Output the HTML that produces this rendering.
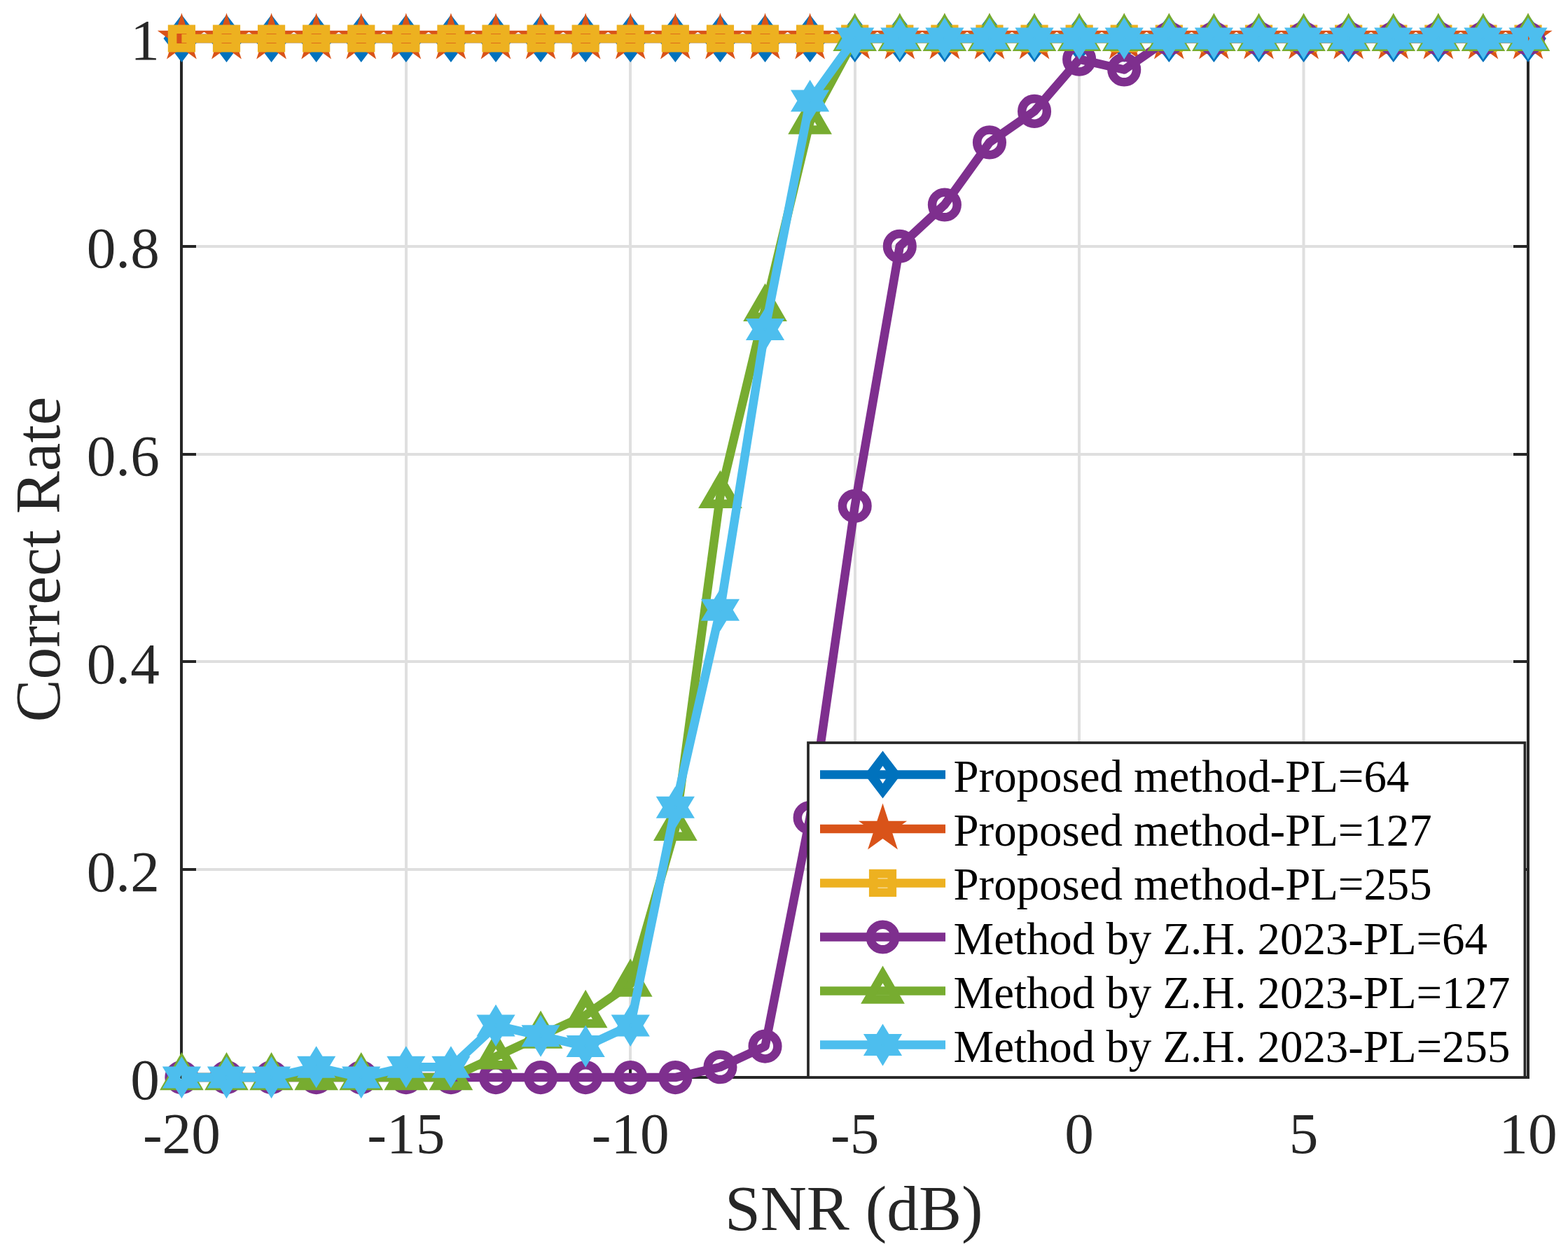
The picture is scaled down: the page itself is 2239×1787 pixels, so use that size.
<!DOCTYPE html>
<html lang="en">
<head>
<meta charset="utf-8">
<title>Correct Rate vs SNR</title>
<style>
html,body{margin:0;padding:0;background:#fff;}
body{width:2239px;height:1787px;overflow:hidden;}
svg{display:block;}
</style>
</head>
<body>
<svg width="2239" height="1787" viewBox="0 0 2239 1787" font-family="'Liberation Serif', 'Times New Roman', serif">
<rect width="2239" height="1787" fill="#fff"/>
<!-- grid -->
<path d="M580 55V1539M900 55V1539M1221 55V1539M1541 55V1539M1861.5 55V1539M259 1242H2182M259 945H2182M259 649H2182M259 352H2182" stroke="#DFDFDF" stroke-width="4" fill="none"/>
<!-- axes box and ticks -->
<path d="M259 1539v-21M259 55v21M580 1539v-21M580 55v21M900 1539v-21M900 55v21M1221 1539v-21M1221 55v21M1541 1539v-21M1541 55v21M1861.5 1539v-21M1861.5 55v21M2182 1539v-21M2182 55v21M259 1539h21M2182 1539h-21M259 1242h21M2182 1242h-21M259 945h21M2182 945h-21M259 649h21M2182 649h-21M259 352h21M2182 352h-21M259 55h21M2182 55h-21" stroke="#262626" stroke-width="4" fill="none"/>
<rect x="259" y="55" width="1923" height="1484" stroke="#262626" stroke-width="4" fill="none"/>
<!-- tick labels -->
<g fill="#262626" font-size="83.3" text-anchor="middle">
<text x="259.4" y="1646.7">-20</text>
<text x="579.83" y="1646.7">-15</text>
<text x="900.27" y="1646.7">-10</text>
<text x="1220.7" y="1646.7">-5</text>
<text x="1541.13" y="1646.7">0</text>
<text x="1861.57" y="1646.7">5</text>
<text x="2182" y="1646.7">10</text>
</g>
<g fill="#262626" font-size="83.3" text-anchor="end">
<text x="227.8" y="85.4">1</text>
<text x="227.8" y="382.22">0.8</text>
<text x="227.8" y="679.04">0.6</text>
<text x="227.8" y="975.86">0.4</text>
<text x="227.8" y="1272.68">0.2</text>
<text x="227.8" y="1569.5">0</text>
</g>
<!-- axis labels -->
<text x="1219.2" y="1756.6" fill="#262626" font-size="91.5" text-anchor="middle">SNR (dB)</text>
<text transform="translate(85,799) rotate(-90)" fill="#262626" font-size="91.5" text-anchor="middle">Correct Rate</text>
<!-- Proposed method-PL=64 -->
<polyline points="259.4,55 323.49,55 387.57,55 451.66,55 515.75,55 579.83,55 643.92,55 708.01,55 772.09,55 836.18,55 900.27,55 964.35,55 1028.44,55 1092.53,55 1156.61,55 1220.7,55 1284.79,55 1348.87,55 1412.96,55 1477.05,55 1541.13,55 1605.22,55 1669.31,55 1733.39,55 1797.48,55 1861.57,55 1925.65,55 1989.74,55 2053.83,55 2117.91,55 2182,55" fill="none" stroke="#0072BD" stroke-width="12.5" stroke-linejoin="round"/>
<path d="M259.4 21L285.3 55L259.4 89L233.5 55ZM259.4 42.3L251 55L259.4 67.7L267.8 55ZM323.49 21L349.39 55L323.49 89L297.59 55ZM323.49 42.3L315.09 55L323.49 67.7L331.89 55ZM387.57 21L413.47 55L387.57 89L361.67 55ZM387.57 42.3L379.17 55L387.57 67.7L395.97 55ZM451.66 21L477.56 55L451.66 89L425.76 55ZM451.66 42.3L443.26 55L451.66 67.7L460.06 55ZM515.75 21L541.65 55L515.75 89L489.85 55ZM515.75 42.3L507.35 55L515.75 67.7L524.15 55ZM579.83 21L605.73 55L579.83 89L553.93 55ZM579.83 42.3L571.43 55L579.83 67.7L588.23 55ZM643.92 21L669.82 55L643.92 89L618.02 55ZM643.92 42.3L635.52 55L643.92 67.7L652.32 55ZM708.01 21L733.91 55L708.01 89L682.11 55ZM708.01 42.3L699.61 55L708.01 67.7L716.41 55ZM772.09 21L797.99 55L772.09 89L746.19 55ZM772.09 42.3L763.69 55L772.09 67.7L780.49 55ZM836.18 21L862.08 55L836.18 89L810.28 55ZM836.18 42.3L827.78 55L836.18 67.7L844.58 55ZM900.27 21L926.17 55L900.27 89L874.37 55ZM900.27 42.3L891.87 55L900.27 67.7L908.67 55ZM964.35 21L990.25 55L964.35 89L938.45 55ZM964.35 42.3L955.95 55L964.35 67.7L972.75 55ZM1028.44 21L1054.34 55L1028.44 89L1002.54 55ZM1028.44 42.3L1020.04 55L1028.44 67.7L1036.84 55ZM1092.53 21L1118.43 55L1092.53 89L1066.63 55ZM1092.53 42.3L1084.13 55L1092.53 67.7L1100.93 55ZM1156.61 21L1182.51 55L1156.61 89L1130.71 55ZM1156.61 42.3L1148.21 55L1156.61 67.7L1165.01 55ZM1220.7 21L1246.6 55L1220.7 89L1194.8 55ZM1220.7 42.3L1212.3 55L1220.7 67.7L1229.1 55ZM1284.79 21L1310.69 55L1284.79 89L1258.89 55ZM1284.79 42.3L1276.39 55L1284.79 67.7L1293.19 55ZM1348.87 21L1374.77 55L1348.87 89L1322.97 55ZM1348.87 42.3L1340.47 55L1348.87 67.7L1357.27 55ZM1412.96 21L1438.86 55L1412.96 89L1387.06 55ZM1412.96 42.3L1404.56 55L1412.96 67.7L1421.36 55ZM1477.05 21L1502.95 55L1477.05 89L1451.15 55ZM1477.05 42.3L1468.65 55L1477.05 67.7L1485.45 55ZM1541.13 21L1567.03 55L1541.13 89L1515.23 55ZM1541.13 42.3L1532.73 55L1541.13 67.7L1549.53 55ZM1605.22 21L1631.12 55L1605.22 89L1579.32 55ZM1605.22 42.3L1596.82 55L1605.22 67.7L1613.62 55ZM1669.31 21L1695.21 55L1669.31 89L1643.41 55ZM1669.31 42.3L1660.91 55L1669.31 67.7L1677.71 55ZM1733.39 21L1759.29 55L1733.39 89L1707.49 55ZM1733.39 42.3L1724.99 55L1733.39 67.7L1741.79 55ZM1797.48 21L1823.38 55L1797.48 89L1771.58 55ZM1797.48 42.3L1789.08 55L1797.48 67.7L1805.88 55ZM1861.57 21L1887.47 55L1861.57 89L1835.67 55ZM1861.57 42.3L1853.17 55L1861.57 67.7L1869.97 55ZM1925.65 21L1951.55 55L1925.65 89L1899.75 55ZM1925.65 42.3L1917.25 55L1925.65 67.7L1934.05 55ZM1989.74 21L2015.64 55L1989.74 89L1963.84 55ZM1989.74 42.3L1981.34 55L1989.74 67.7L1998.14 55ZM2053.83 21L2079.73 55L2053.83 89L2027.93 55ZM2053.83 42.3L2045.43 55L2053.83 67.7L2062.23 55ZM2117.91 21L2143.81 55L2117.91 89L2092.01 55ZM2117.91 42.3L2109.51 55L2117.91 67.7L2126.31 55ZM2182 21L2207.9 55L2182 89L2156.1 55ZM2182 42.3L2173.6 55L2182 67.7L2190.4 55Z" fill="#0072BD" fill-rule="evenodd"/>
<!-- Proposed method-PL=127 -->
<polyline points="259.4,55 323.49,55 387.57,55 451.66,55 515.75,55 579.83,55 643.92,55 708.01,55 772.09,55 836.18,55 900.27,55 964.35,55 1028.44,55 1092.53,55 1156.61,55 1220.7,55 1284.79,55 1348.87,55 1412.96,55 1477.05,55 1541.13,55 1605.22,55 1669.31,55 1733.39,55 1797.48,55 1861.57,55 1925.65,55 1989.74,55 2053.83,55 2117.91,55 2182,55" fill="none" stroke="#D95319" stroke-width="12.5" stroke-linejoin="round"/>
<path d="M259.4 18.6L267.57 43.75L294.02 43.75L272.62 59.3L280.8 84.45L259.4 68.9L238 84.45L246.18 59.3L224.78 43.75L251.23 43.75ZM323.49 18.6L331.66 43.75L358.11 43.75L336.71 59.3L344.88 84.45L323.49 68.9L302.09 84.45L310.26 59.3L288.87 43.75L315.31 43.75ZM387.57 18.6L395.75 43.75L422.19 43.75L400.8 59.3L408.97 84.45L387.57 68.9L366.18 84.45L374.35 59.3L352.95 43.75L379.4 43.75ZM451.66 18.6L459.83 43.75L486.28 43.75L464.88 59.3L473.06 84.45L451.66 68.9L430.26 84.45L438.44 59.3L417.04 43.75L443.49 43.75ZM515.75 18.6L523.92 43.75L550.37 43.75L528.97 59.3L537.14 84.45L515.75 68.9L494.35 84.45L502.52 59.3L481.13 43.75L507.57 43.75ZM579.83 18.6L588.01 43.75L614.45 43.75L593.06 59.3L601.23 84.45L579.83 68.9L558.44 84.45L566.61 59.3L545.21 43.75L571.66 43.75ZM643.92 18.6L652.09 43.75L678.54 43.75L657.14 59.3L665.32 84.45L643.92 68.9L622.52 84.45L630.7 59.3L609.3 43.75L635.75 43.75ZM708.01 18.6L716.18 43.75L742.63 43.75L721.23 59.3L729.4 84.45L708.01 68.9L686.61 84.45L694.78 59.3L673.39 43.75L699.83 43.75ZM772.09 18.6L780.27 43.75L806.71 43.75L785.32 59.3L793.49 84.45L772.09 68.9L750.7 84.45L758.87 59.3L737.47 43.75L763.92 43.75ZM836.18 18.6L844.35 43.75L870.8 43.75L849.4 59.3L857.58 84.45L836.18 68.9L814.78 84.45L822.96 59.3L801.56 43.75L828.01 43.75ZM900.27 18.6L908.44 43.75L934.89 43.75L913.49 59.3L921.66 84.45L900.27 68.9L878.87 84.45L887.04 59.3L865.65 43.75L892.09 43.75ZM964.35 18.6L972.53 43.75L998.97 43.75L977.58 59.3L985.75 84.45L964.35 68.9L942.96 84.45L951.13 59.3L929.73 43.75L956.18 43.75ZM1028.44 18.6L1036.61 43.75L1063.06 43.75L1041.66 59.3L1049.84 84.45L1028.44 68.9L1007.04 84.45L1015.22 59.3L993.82 43.75L1020.27 43.75ZM1092.53 18.6L1100.7 43.75L1127.15 43.75L1105.75 59.3L1113.92 84.45L1092.53 68.9L1071.13 84.45L1079.3 59.3L1057.91 43.75L1084.35 43.75ZM1156.61 18.6L1164.79 43.75L1191.23 43.75L1169.84 59.3L1178.01 84.45L1156.61 68.9L1135.22 84.45L1143.39 59.3L1121.99 43.75L1148.44 43.75ZM1220.7 18.6L1228.87 43.75L1255.32 43.75L1233.92 59.3L1242.1 84.45L1220.7 68.9L1199.3 84.45L1207.48 59.3L1186.08 43.75L1212.53 43.75ZM1284.79 18.6L1292.96 43.75L1319.41 43.75L1298.01 59.3L1306.18 84.45L1284.79 68.9L1263.39 84.45L1271.56 59.3L1250.17 43.75L1276.61 43.75ZM1348.87 18.6L1357.05 43.75L1383.49 43.75L1362.1 59.3L1370.27 84.45L1348.87 68.9L1327.48 84.45L1335.65 59.3L1314.25 43.75L1340.7 43.75ZM1412.96 18.6L1421.13 43.75L1447.58 43.75L1426.18 59.3L1434.36 84.45L1412.96 68.9L1391.56 84.45L1399.74 59.3L1378.34 43.75L1404.79 43.75ZM1477.05 18.6L1485.22 43.75L1511.67 43.75L1490.27 59.3L1498.44 84.45L1477.05 68.9L1455.65 84.45L1463.82 59.3L1442.43 43.75L1468.87 43.75ZM1541.13 18.6L1549.31 43.75L1575.75 43.75L1554.36 59.3L1562.53 84.45L1541.13 68.9L1519.74 84.45L1527.91 59.3L1506.51 43.75L1532.96 43.75ZM1605.22 18.6L1613.39 43.75L1639.84 43.75L1618.44 59.3L1626.62 84.45L1605.22 68.9L1583.82 84.45L1592 59.3L1570.6 43.75L1597.05 43.75ZM1669.31 18.6L1677.48 43.75L1703.93 43.75L1682.53 59.3L1690.7 84.45L1669.31 68.9L1647.91 84.45L1656.08 59.3L1634.69 43.75L1661.13 43.75ZM1733.39 18.6L1741.57 43.75L1768.01 43.75L1746.62 59.3L1754.79 84.45L1733.39 68.9L1712 84.45L1720.17 59.3L1698.77 43.75L1725.22 43.75ZM1797.48 18.6L1805.65 43.75L1832.1 43.75L1810.7 59.3L1818.88 84.45L1797.48 68.9L1776.08 84.45L1784.26 59.3L1762.86 43.75L1789.31 43.75ZM1861.57 18.6L1869.74 43.75L1896.19 43.75L1874.79 59.3L1882.96 84.45L1861.57 68.9L1840.17 84.45L1848.34 59.3L1826.95 43.75L1853.39 43.75ZM1925.65 18.6L1933.83 43.75L1960.27 43.75L1938.88 59.3L1947.05 84.45L1925.65 68.9L1904.26 84.45L1912.43 59.3L1891.03 43.75L1917.48 43.75ZM1989.74 18.6L1997.91 43.75L2024.36 43.75L2002.96 59.3L2011.14 84.45L1989.74 68.9L1968.34 84.45L1976.52 59.3L1955.12 43.75L1981.57 43.75ZM2053.83 18.6L2062 43.75L2088.45 43.75L2067.05 59.3L2075.22 84.45L2053.83 68.9L2032.43 84.45L2040.6 59.3L2019.21 43.75L2045.65 43.75ZM2117.91 18.6L2126.09 43.75L2152.53 43.75L2131.14 59.3L2139.31 84.45L2117.91 68.9L2096.52 84.45L2104.69 59.3L2083.29 43.75L2109.74 43.75ZM2182 18.6L2190.17 43.75L2216.62 43.75L2195.22 59.3L2203.4 84.45L2182 68.9L2160.6 84.45L2168.78 59.3L2147.38 43.75L2173.83 43.75Z" fill="#D95319"/>
<!-- Proposed method-PL=255 -->
<polyline points="259.4,55 323.49,55 387.57,55 451.66,55 515.75,55 579.83,55 643.92,55 708.01,55 772.09,55 836.18,55 900.27,55 964.35,55 1028.44,55 1092.53,55 1156.61,55 1220.7,55 1284.79,55 1348.87,55 1412.96,55 1477.05,55 1541.13,55 1605.22,55 1669.31,55 1733.39,55 1797.48,55 1861.57,55 1925.65,55 1989.74,55 2053.83,55 2117.91,55 2182,55" fill="none" stroke="#EDB120" stroke-width="12.5" stroke-linejoin="round"/>
<path d="M246.1 41.7L272.7 41.7L272.7 68.3L246.1 68.3ZM310.19 41.7L336.79 41.7L336.79 68.3L310.19 68.3ZM374.27 41.7L400.87 41.7L400.87 68.3L374.27 68.3ZM438.36 41.7L464.96 41.7L464.96 68.3L438.36 68.3ZM502.45 41.7L529.05 41.7L529.05 68.3L502.45 68.3ZM566.53 41.7L593.13 41.7L593.13 68.3L566.53 68.3ZM630.62 41.7L657.22 41.7L657.22 68.3L630.62 68.3ZM694.71 41.7L721.31 41.7L721.31 68.3L694.71 68.3ZM758.79 41.7L785.39 41.7L785.39 68.3L758.79 68.3ZM822.88 41.7L849.48 41.7L849.48 68.3L822.88 68.3ZM886.97 41.7L913.57 41.7L913.57 68.3L886.97 68.3ZM951.05 41.7L977.65 41.7L977.65 68.3L951.05 68.3ZM1015.14 41.7L1041.74 41.7L1041.74 68.3L1015.14 68.3ZM1079.23 41.7L1105.83 41.7L1105.83 68.3L1079.23 68.3ZM1143.31 41.7L1169.91 41.7L1169.91 68.3L1143.31 68.3ZM1207.4 41.7L1234 41.7L1234 68.3L1207.4 68.3ZM1271.49 41.7L1298.09 41.7L1298.09 68.3L1271.49 68.3ZM1335.57 41.7L1362.17 41.7L1362.17 68.3L1335.57 68.3ZM1399.66 41.7L1426.26 41.7L1426.26 68.3L1399.66 68.3ZM1463.75 41.7L1490.35 41.7L1490.35 68.3L1463.75 68.3ZM1527.83 41.7L1554.43 41.7L1554.43 68.3L1527.83 68.3ZM1591.92 41.7L1618.52 41.7L1618.52 68.3L1591.92 68.3ZM1656.01 41.7L1682.61 41.7L1682.61 68.3L1656.01 68.3ZM1720.09 41.7L1746.69 41.7L1746.69 68.3L1720.09 68.3ZM1784.18 41.7L1810.78 41.7L1810.78 68.3L1784.18 68.3ZM1848.27 41.7L1874.87 41.7L1874.87 68.3L1848.27 68.3ZM1912.35 41.7L1938.95 41.7L1938.95 68.3L1912.35 68.3ZM1976.44 41.7L2003.04 41.7L2003.04 68.3L1976.44 68.3ZM2040.53 41.7L2067.13 41.7L2067.13 68.3L2040.53 68.3ZM2104.61 41.7L2131.21 41.7L2131.21 68.3L2104.61 68.3ZM2168.7 41.7L2195.3 41.7L2195.3 68.3L2168.7 68.3Z" fill="none" stroke="#EDB120" stroke-width="12.6"/>
<!-- Method by Z.H. 2023-PL=64 -->
<polyline points="259.4,1539.1 323.49,1539.1 387.57,1539.1 451.66,1539.1 515.75,1539.1 579.83,1539.1 643.92,1539.1 708.01,1539.1 772.09,1539.1 836.18,1539.1 900.27,1539.1 964.35,1539.1 1028.44,1524.26 1092.53,1494.58 1156.61,1168.07 1220.7,722.84 1284.79,351.82 1348.87,292.46 1412.96,203.41 1477.05,158.89 1541.13,84.68 1605.22,99.52 1669.31,55 1733.39,55 1797.48,55 1861.57,55 1925.65,55 1989.74,55 2053.83,55 2117.91,55 2182,55" fill="none" stroke="#7E2F8E" stroke-width="12.5" stroke-linejoin="round"/>
<path d="M241.6 1539.1a17.8 17.8 0 1 0 35.6 0a17.8 17.8 0 1 0 -35.6 0ZM305.69 1539.1a17.8 17.8 0 1 0 35.6 0a17.8 17.8 0 1 0 -35.6 0ZM369.77 1539.1a17.8 17.8 0 1 0 35.6 0a17.8 17.8 0 1 0 -35.6 0ZM433.86 1539.1a17.8 17.8 0 1 0 35.6 0a17.8 17.8 0 1 0 -35.6 0ZM497.95 1539.1a17.8 17.8 0 1 0 35.6 0a17.8 17.8 0 1 0 -35.6 0ZM562.03 1539.1a17.8 17.8 0 1 0 35.6 0a17.8 17.8 0 1 0 -35.6 0ZM626.12 1539.1a17.8 17.8 0 1 0 35.6 0a17.8 17.8 0 1 0 -35.6 0ZM690.21 1539.1a17.8 17.8 0 1 0 35.6 0a17.8 17.8 0 1 0 -35.6 0ZM754.29 1539.1a17.8 17.8 0 1 0 35.6 0a17.8 17.8 0 1 0 -35.6 0ZM818.38 1539.1a17.8 17.8 0 1 0 35.6 0a17.8 17.8 0 1 0 -35.6 0ZM882.47 1539.1a17.8 17.8 0 1 0 35.6 0a17.8 17.8 0 1 0 -35.6 0ZM946.55 1539.1a17.8 17.8 0 1 0 35.6 0a17.8 17.8 0 1 0 -35.6 0ZM1010.64 1524.26a17.8 17.8 0 1 0 35.6 0a17.8 17.8 0 1 0 -35.6 0ZM1074.73 1494.58a17.8 17.8 0 1 0 35.6 0a17.8 17.8 0 1 0 -35.6 0ZM1138.81 1168.07a17.8 17.8 0 1 0 35.6 0a17.8 17.8 0 1 0 -35.6 0ZM1202.9 722.84a17.8 17.8 0 1 0 35.6 0a17.8 17.8 0 1 0 -35.6 0ZM1266.99 351.82a17.8 17.8 0 1 0 35.6 0a17.8 17.8 0 1 0 -35.6 0ZM1331.07 292.46a17.8 17.8 0 1 0 35.6 0a17.8 17.8 0 1 0 -35.6 0ZM1395.16 203.41a17.8 17.8 0 1 0 35.6 0a17.8 17.8 0 1 0 -35.6 0ZM1459.25 158.89a17.8 17.8 0 1 0 35.6 0a17.8 17.8 0 1 0 -35.6 0ZM1523.33 84.68a17.8 17.8 0 1 0 35.6 0a17.8 17.8 0 1 0 -35.6 0ZM1587.42 99.52a17.8 17.8 0 1 0 35.6 0a17.8 17.8 0 1 0 -35.6 0ZM1651.51 55a17.8 17.8 0 1 0 35.6 0a17.8 17.8 0 1 0 -35.6 0ZM1715.59 55a17.8 17.8 0 1 0 35.6 0a17.8 17.8 0 1 0 -35.6 0ZM1779.68 55a17.8 17.8 0 1 0 35.6 0a17.8 17.8 0 1 0 -35.6 0ZM1843.77 55a17.8 17.8 0 1 0 35.6 0a17.8 17.8 0 1 0 -35.6 0ZM1907.85 55a17.8 17.8 0 1 0 35.6 0a17.8 17.8 0 1 0 -35.6 0ZM1971.94 55a17.8 17.8 0 1 0 35.6 0a17.8 17.8 0 1 0 -35.6 0ZM2036.03 55a17.8 17.8 0 1 0 35.6 0a17.8 17.8 0 1 0 -35.6 0ZM2100.11 55a17.8 17.8 0 1 0 35.6 0a17.8 17.8 0 1 0 -35.6 0ZM2164.2 55a17.8 17.8 0 1 0 35.6 0a17.8 17.8 0 1 0 -35.6 0Z" fill="none" stroke="#7E2F8E" stroke-width="12.5"/>
<!-- Method by Z.H. 2023-PL=127 -->
<polyline points="259.4,1539.1 323.49,1539.1 387.57,1539.1 451.66,1539.1 515.75,1539.1 579.83,1539.1 643.92,1539.1 708.01,1509.42 772.09,1479.74 836.18,1450.05 900.27,1405.53 964.35,1182.92 1028.44,708 1092.53,440.87 1156.61,173.73 1220.7,55 1284.79,55 1348.87,55 1412.96,55 1477.05,55 1541.13,55 1605.22,55 1669.31,55 1733.39,55 1797.48,55 1861.57,55 1925.65,55 1989.74,55 2053.83,55 2117.91,55 2182,55" fill="none" stroke="#77AC30" stroke-width="12.5" stroke-linejoin="round"/>
<path d="M259.4 1515.4L279.92 1550.95L238.88 1550.95ZM323.49 1515.4L344.01 1550.95L302.96 1550.95ZM387.57 1515.4L408.1 1550.95L367.05 1550.95ZM451.66 1515.4L472.18 1550.95L431.14 1550.95ZM515.75 1515.4L536.27 1550.95L495.22 1550.95ZM579.83 1515.4L600.36 1550.95L559.31 1550.95ZM643.92 1515.4L664.44 1550.95L623.4 1550.95ZM708.01 1485.72L728.53 1521.27L687.48 1521.27ZM772.09 1456.04L792.62 1491.59L751.57 1491.59ZM836.18 1426.35L856.7 1461.9L815.66 1461.9ZM900.27 1381.83L920.79 1417.38L879.74 1417.38ZM964.35 1159.22L984.88 1194.77L943.83 1194.77ZM1028.44 684.3L1048.96 719.85L1007.92 719.85ZM1092.53 417.17L1113.05 452.72L1072 452.72ZM1156.61 150.03L1177.14 185.58L1136.09 185.58ZM1220.7 31.3L1241.22 66.85L1200.18 66.85ZM1284.79 31.3L1305.31 66.85L1264.26 66.85ZM1348.87 31.3L1369.4 66.85L1328.35 66.85ZM1412.96 31.3L1433.48 66.85L1392.44 66.85ZM1477.05 31.3L1497.57 66.85L1456.52 66.85ZM1541.13 31.3L1561.66 66.85L1520.61 66.85ZM1605.22 31.3L1625.74 66.85L1584.7 66.85ZM1669.31 31.3L1689.83 66.85L1648.78 66.85ZM1733.39 31.3L1753.92 66.85L1712.87 66.85ZM1797.48 31.3L1818 66.85L1776.96 66.85ZM1861.57 31.3L1882.09 66.85L1841.04 66.85ZM1925.65 31.3L1946.18 66.85L1905.13 66.85ZM1989.74 31.3L2010.26 66.85L1969.22 66.85ZM2053.83 31.3L2074.35 66.85L2033.3 66.85ZM2117.91 31.3L2138.44 66.85L2097.39 66.85ZM2182 31.3L2202.52 66.85L2161.48 66.85Z" fill="none" stroke="#77AC30" stroke-width="12.5" stroke-linejoin="miter" stroke-miterlimit="10"/>
<!-- Method by Z.H. 2023-PL=255 -->
<polyline points="259.4,1539.1 323.49,1539.1 387.57,1539.1 451.66,1524.26 515.75,1539.1 579.83,1524.26 643.92,1524.26 708.01,1464.89 772.09,1479.74 836.18,1494.58 900.27,1464.89 964.35,1153.23 1028.44,871.25 1092.53,470.55 1156.61,144.05 1220.7,55 1284.79,55 1348.87,55 1412.96,55 1477.05,55 1541.13,55 1605.22,55 1669.31,55 1733.39,55 1797.48,55 1861.57,55 1925.65,55 1989.74,55 2053.83,55 2117.91,55 2182,55" fill="none" stroke="#4DBEEE" stroke-width="12.5" stroke-linejoin="round"/>
<path d="M259.4 1509L268.24 1523.6L287 1523.6L277.62 1539.1L287 1554.6L268.24 1554.6L259.4 1569.2L250.56 1554.6L231.8 1554.6L241.18 1539.1L231.8 1523.6L250.56 1523.6ZM259.4 1535.6L257.2 1539.1L259.4 1542.6L261.6 1539.1ZM323.49 1509L332.32 1523.6L351.09 1523.6L341.71 1539.1L351.09 1554.6L332.32 1554.6L323.49 1569.2L314.65 1554.6L295.89 1554.6L305.27 1539.1L295.89 1523.6L314.65 1523.6ZM323.49 1535.6L321.29 1539.1L323.49 1542.6L325.69 1539.1ZM387.57 1509L396.41 1523.6L415.17 1523.6L405.79 1539.1L415.17 1554.6L396.41 1554.6L387.57 1569.2L378.74 1554.6L359.97 1554.6L369.35 1539.1L359.97 1523.6L378.74 1523.6ZM387.57 1535.6L385.37 1539.1L387.57 1542.6L389.77 1539.1ZM451.66 1494.16L460.5 1508.76L479.26 1508.76L469.88 1524.26L479.26 1539.76L460.5 1539.76L451.66 1554.36L442.82 1539.76L424.06 1539.76L433.44 1524.26L424.06 1508.76L442.82 1508.76ZM451.66 1520.76L449.46 1524.26L451.66 1527.76L453.86 1524.26ZM515.75 1509L524.58 1523.6L543.35 1523.6L533.97 1539.1L543.35 1554.6L524.58 1554.6L515.75 1569.2L506.91 1554.6L488.15 1554.6L497.53 1539.1L488.15 1523.6L506.91 1523.6ZM515.75 1535.6L513.55 1539.1L515.75 1542.6L517.95 1539.1ZM579.83 1494.16L588.67 1508.76L607.43 1508.76L598.05 1524.26L607.43 1539.76L588.67 1539.76L579.83 1554.36L571 1539.76L552.23 1539.76L561.61 1524.26L552.23 1508.76L571 1508.76ZM579.83 1520.76L577.63 1524.26L579.83 1527.76L582.03 1524.26ZM643.92 1494.16L652.76 1508.76L671.52 1508.76L662.14 1524.26L671.52 1539.76L652.76 1539.76L643.92 1554.36L635.08 1539.76L616.32 1539.76L625.7 1524.26L616.32 1508.76L635.08 1508.76ZM643.92 1520.76L641.72 1524.26L643.92 1527.76L646.12 1524.26ZM708.01 1434.8L716.84 1449.39L735.61 1449.39L726.23 1464.89L735.61 1480.39L716.84 1480.39L708.01 1494.99L699.17 1480.39L680.41 1480.39L689.79 1464.89L680.41 1449.39L699.17 1449.39ZM708.01 1461.39L705.81 1464.89L708.01 1468.39L710.21 1464.89ZM772.09 1449.64L780.93 1464.24L799.69 1464.24L790.31 1479.74L799.69 1495.24L780.93 1495.24L772.09 1509.84L763.26 1495.24L744.49 1495.24L753.87 1479.74L744.49 1464.24L763.26 1464.24ZM772.09 1476.24L769.89 1479.74L772.09 1483.24L774.29 1479.74ZM836.18 1464.48L845.02 1479.08L863.78 1479.08L854.4 1494.58L863.78 1510.08L845.02 1510.08L836.18 1524.68L827.34 1510.08L808.58 1510.08L817.96 1494.58L808.58 1479.08L827.34 1479.08ZM836.18 1491.08L833.98 1494.58L836.18 1498.08L838.38 1494.58ZM900.27 1434.8L909.1 1449.39L927.87 1449.39L918.49 1464.89L927.87 1480.39L909.1 1480.39L900.27 1494.99L891.43 1480.39L872.67 1480.39L882.05 1464.89L872.67 1449.39L891.43 1449.39ZM900.27 1461.39L898.07 1464.89L900.27 1468.39L902.47 1464.89ZM964.35 1123.13L973.19 1137.73L991.95 1137.73L982.57 1153.23L991.95 1168.73L973.19 1168.73L964.35 1183.33L955.52 1168.73L936.75 1168.73L946.13 1153.23L936.75 1137.73L955.52 1137.73ZM964.35 1149.73L962.15 1153.23L964.35 1156.73L966.55 1153.23ZM1028.44 841.15L1037.28 855.75L1056.04 855.75L1046.66 871.25L1056.04 886.75L1037.28 886.75L1028.44 901.35L1019.6 886.75L1000.84 886.75L1010.22 871.25L1000.84 855.75L1019.6 855.75ZM1028.44 867.75L1026.24 871.25L1028.44 874.75L1030.64 871.25ZM1092.53 440.45L1101.36 455.05L1120.13 455.05L1110.75 470.55L1120.13 486.05L1101.36 486.05L1092.53 500.65L1083.69 486.05L1064.93 486.05L1074.31 470.55L1064.93 455.05L1083.69 455.05ZM1092.53 467.05L1090.33 470.55L1092.53 474.05L1094.73 470.55ZM1156.61 113.95L1165.45 128.55L1184.21 128.55L1174.83 144.05L1184.21 159.55L1165.45 159.55L1156.61 174.15L1147.78 159.55L1129.01 159.55L1138.39 144.05L1129.01 128.55L1147.78 128.55ZM1156.61 140.55L1154.41 144.05L1156.61 147.55L1158.81 144.05ZM1220.7 24.9L1229.54 39.5L1248.3 39.5L1238.92 55L1248.3 70.5L1229.54 70.5L1220.7 85.1L1211.86 70.5L1193.1 70.5L1202.48 55L1193.1 39.5L1211.86 39.5ZM1220.7 51.5L1218.5 55L1220.7 58.5L1222.9 55ZM1284.79 24.9L1293.62 39.5L1312.39 39.5L1303.01 55L1312.39 70.5L1293.62 70.5L1284.79 85.1L1275.95 70.5L1257.19 70.5L1266.57 55L1257.19 39.5L1275.95 39.5ZM1284.79 51.5L1282.59 55L1284.79 58.5L1286.99 55ZM1348.87 24.9L1357.71 39.5L1376.47 39.5L1367.09 55L1376.47 70.5L1357.71 70.5L1348.87 85.1L1340.04 70.5L1321.27 70.5L1330.65 55L1321.27 39.5L1340.04 39.5ZM1348.87 51.5L1346.67 55L1348.87 58.5L1351.07 55ZM1412.96 24.9L1421.8 39.5L1440.56 39.5L1431.18 55L1440.56 70.5L1421.8 70.5L1412.96 85.1L1404.12 70.5L1385.36 70.5L1394.74 55L1385.36 39.5L1404.12 39.5ZM1412.96 51.5L1410.76 55L1412.96 58.5L1415.16 55ZM1477.05 24.9L1485.88 39.5L1504.65 39.5L1495.27 55L1504.65 70.5L1485.88 70.5L1477.05 85.1L1468.21 70.5L1449.45 70.5L1458.83 55L1449.45 39.5L1468.21 39.5ZM1477.05 51.5L1474.85 55L1477.05 58.5L1479.25 55ZM1541.13 24.9L1549.97 39.5L1568.73 39.5L1559.35 55L1568.73 70.5L1549.97 70.5L1541.13 85.1L1532.3 70.5L1513.53 70.5L1522.91 55L1513.53 39.5L1532.3 39.5ZM1541.13 51.5L1538.93 55L1541.13 58.5L1543.33 55ZM1605.22 24.9L1614.06 39.5L1632.82 39.5L1623.44 55L1632.82 70.5L1614.06 70.5L1605.22 85.1L1596.38 70.5L1577.62 70.5L1587 55L1577.62 39.5L1596.38 39.5ZM1605.22 51.5L1603.02 55L1605.22 58.5L1607.42 55ZM1669.31 24.9L1678.14 39.5L1696.91 39.5L1687.53 55L1696.91 70.5L1678.14 70.5L1669.31 85.1L1660.47 70.5L1641.71 70.5L1651.09 55L1641.71 39.5L1660.47 39.5ZM1669.31 51.5L1667.11 55L1669.31 58.5L1671.51 55ZM1733.39 24.9L1742.23 39.5L1760.99 39.5L1751.61 55L1760.99 70.5L1742.23 70.5L1733.39 85.1L1724.56 70.5L1705.79 70.5L1715.17 55L1705.79 39.5L1724.56 39.5ZM1733.39 51.5L1731.19 55L1733.39 58.5L1735.59 55ZM1797.48 24.9L1806.32 39.5L1825.08 39.5L1815.7 55L1825.08 70.5L1806.32 70.5L1797.48 85.1L1788.64 70.5L1769.88 70.5L1779.26 55L1769.88 39.5L1788.64 39.5ZM1797.48 51.5L1795.28 55L1797.48 58.5L1799.68 55ZM1861.57 24.9L1870.4 39.5L1889.17 39.5L1879.79 55L1889.17 70.5L1870.4 70.5L1861.57 85.1L1852.73 70.5L1833.97 70.5L1843.35 55L1833.97 39.5L1852.73 39.5ZM1861.57 51.5L1859.37 55L1861.57 58.5L1863.77 55ZM1925.65 24.9L1934.49 39.5L1953.25 39.5L1943.87 55L1953.25 70.5L1934.49 70.5L1925.65 85.1L1916.82 70.5L1898.05 70.5L1907.43 55L1898.05 39.5L1916.82 39.5ZM1925.65 51.5L1923.45 55L1925.65 58.5L1927.85 55ZM1989.74 24.9L1998.58 39.5L2017.34 39.5L2007.96 55L2017.34 70.5L1998.58 70.5L1989.74 85.1L1980.9 70.5L1962.14 70.5L1971.52 55L1962.14 39.5L1980.9 39.5ZM1989.74 51.5L1987.54 55L1989.74 58.5L1991.94 55ZM2053.83 24.9L2062.66 39.5L2081.43 39.5L2072.05 55L2081.43 70.5L2062.66 70.5L2053.83 85.1L2044.99 70.5L2026.23 70.5L2035.61 55L2026.23 39.5L2044.99 39.5ZM2053.83 51.5L2051.63 55L2053.83 58.5L2056.03 55ZM2117.91 24.9L2126.75 39.5L2145.51 39.5L2136.13 55L2145.51 70.5L2126.75 70.5L2117.91 85.1L2109.08 70.5L2090.31 70.5L2099.69 55L2090.31 39.5L2109.08 39.5ZM2117.91 51.5L2115.71 55L2117.91 58.5L2120.11 55ZM2182 24.9L2190.84 39.5L2209.6 39.5L2200.22 55L2209.6 70.5L2190.84 70.5L2182 85.1L2173.16 70.5L2154.4 70.5L2163.78 55L2154.4 39.5L2173.16 39.5ZM2182 51.5L2179.8 55L2182 58.5L2184.2 55Z" fill="#4DBEEE" fill-rule="evenodd"/>
<!-- legend -->
<rect x="1154" y="1061" width="1023.4" height="478" fill="#fff" stroke="#262626" stroke-width="3.7"/>
<line x1="1171" y1="1106.6" x2="1350" y2="1106.6" stroke="#0072BD" stroke-width="12.5"/>
<path d="M1260.5 1072.6L1286.4 1106.6L1260.5 1140.6L1234.6 1106.6ZM1260.5 1093.9L1252.1 1106.6L1260.5 1119.3L1268.9 1106.6Z" fill="#0072BD" fill-rule="evenodd"/>
<text x="1361.5" y="1130.6" font-size="64.85" fill="#000">Proposed method-PL=64</text>
<line x1="1171" y1="1184" x2="1350" y2="1184" stroke="#D95319" stroke-width="12.5"/>
<path d="M1260.5 1147.6L1268.67 1172.75L1295.12 1172.75L1273.72 1188.3L1281.9 1213.45L1260.5 1197.9L1239.1 1213.45L1247.28 1188.3L1225.88 1172.75L1252.33 1172.75Z" fill="#D95319"/>
<text x="1361.5" y="1207.95" font-size="64.85" fill="#000">Proposed method-PL=127</text>
<line x1="1171" y1="1261.4" x2="1350" y2="1261.4" stroke="#EDB120" stroke-width="12.5"/>
<path d="M1247.2 1248.1L1273.8 1248.1L1273.8 1274.7L1247.2 1274.7Z" fill="none" stroke="#EDB120" stroke-width="12.6"/>
<text x="1361.5" y="1285.3" font-size="64.85" fill="#000">Proposed method-PL=255</text>
<line x1="1171" y1="1338.55" x2="1350" y2="1338.55" stroke="#7E2F8E" stroke-width="12.5"/>
<path d="M1242.7 1338.55a17.8 17.8 0 1 0 35.6 0a17.8 17.8 0 1 0 -35.6 0Z" fill="none" stroke="#7E2F8E" stroke-width="12.5"/>
<text x="1361.5" y="1362.65" font-size="64.85" fill="#000">Method by Z.H. 2023-PL=64</text>
<line x1="1171" y1="1415.6" x2="1350" y2="1415.6" stroke="#77AC30" stroke-width="12.5"/>
<path d="M1260.5 1391.9L1281.02 1427.45L1239.98 1427.45Z" fill="none" stroke="#77AC30" stroke-width="12.5" stroke-linejoin="miter" stroke-miterlimit="10"/>
<text x="1361.5" y="1440" font-size="64.85" fill="#000">Method by Z.H. 2023-PL=127</text>
<line x1="1171" y1="1492.6" x2="1350" y2="1492.6" stroke="#4DBEEE" stroke-width="12.5"/>
<path d="M1260.5 1462.5L1269.34 1477.1L1288.1 1477.1L1278.72 1492.6L1288.1 1508.1L1269.34 1508.1L1260.5 1522.7L1251.66 1508.1L1232.9 1508.1L1242.28 1492.6L1232.9 1477.1L1251.66 1477.1ZM1260.5 1489.1L1258.3 1492.6L1260.5 1496.1L1262.7 1492.6Z" fill="#4DBEEE" fill-rule="evenodd"/>
<text x="1361.5" y="1517.35" font-size="64.85" fill="#000">Method by Z.H. 2023-PL=255</text>
</svg>
</body>
</html>
